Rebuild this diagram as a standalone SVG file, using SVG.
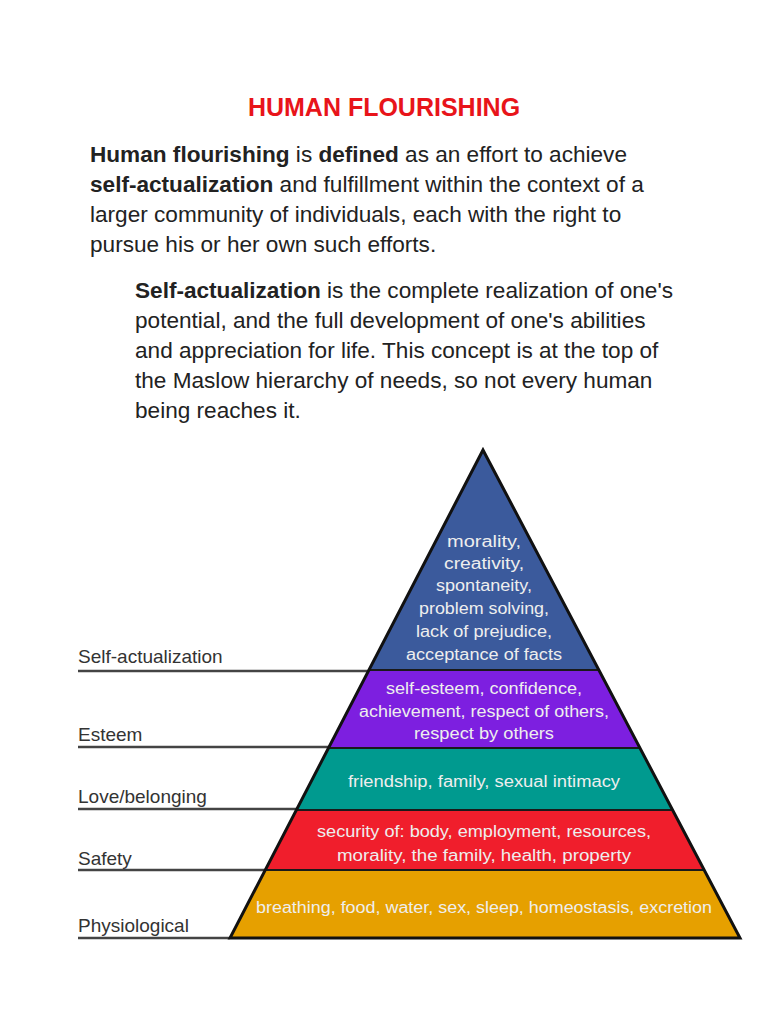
<svg xmlns="http://www.w3.org/2000/svg" width="768" height="1024" viewBox="0 0 768 1024">
<style>
.p{font-family:"Liberation Sans",Arial,sans-serif;font-size:22.6px;fill:#222}
.b{font-weight:bold}
.l{font-family:"Liberation Sans",Arial,sans-serif;font-size:19px;fill:#333}
.t{font-family:"Liberation Sans",Arial,sans-serif;font-size:16px;fill:#eeeeee;text-anchor:middle}
.ln{stroke:#444;stroke-width:2.5}
</style>
<rect width="768" height="1024" fill="#fff"/>
<text x="384" y="116" text-anchor="middle" font-family="Liberation Sans,Arial,sans-serif" font-weight="bold" font-size="25" fill="#e8141a">HUMAN FLOURISHING</text>
<text class="p" x="90" y="162"><tspan class="b">Human flourishing</tspan> is <tspan class="b">defined</tspan> as an effort to achieve</text>
<text class="p" x="90" y="192"><tspan class="b">self-actualization</tspan> and fulfillment within the context of a</text>
<text class="p" x="90" y="222">larger community of individuals, each with the right to</text>
<text class="p" x="90" y="252">pursue his or her own such efforts.</text>
<text class="p" x="135" y="298"><tspan class="b">Self-actualization</tspan> is the complete realization of one's</text>
<text class="p" x="135" y="328">potential, and the full development of one's abilities</text>
<text class="p" x="135" y="358">and appreciation for life. This concept is at the top of</text>
<text class="p" x="135" y="388">the Maslow hierarchy of needs, so not every human</text>
<text class="p" x="135" y="418">being reaches it.</text>
<g id="lines">
<line class="ln" x1="78" y1="671" x2="370" y2="671"/>
<line class="ln" x1="78" y1="747" x2="330" y2="747"/>
<line class="ln" x1="78" y1="809" x2="298" y2="809"/>
<line class="ln" x1="78" y1="870" x2="266" y2="870"/>
<line class="ln" x1="78" y1="938" x2="230" y2="938"/>
</g>
<g id="labels">
<text class="l" x="78" y="663">Self-actualization</text>
<text class="l" x="78" y="741">Esteem</text>
<text class="l" x="78" y="803">Love/belonging</text>
<text class="l" x="78" y="865">Safety</text>
<text class="l" x="78" y="932">Physiological</text>
</g>
<g id="pyramid">
<polygon points="483,450 369,670 599,670" fill="#3b5a9c"/>
<polygon points="369,670 599,670 639,748 329,748" fill="#7d1fe0"/>
<polygon points="329,748 639,748 672,810 297,810" fill="#009a8f"/>
<polygon points="297,810 672,810 703,870 266,870" fill="#f01e2c"/>
<polygon points="266,870 703,870 740,938 230,938" fill="#e6a000"/>
<g stroke="#1a1a1a" stroke-width="2"><line x1="369" y1="670" x2="599" y2="670"/><line x1="329" y1="748" x2="639" y2="748"/><line x1="297" y1="810" x2="672" y2="810"/><line x1="266" y1="870" x2="703" y2="870"/></g>
<polygon points="483,450 230,938 740,938" fill="none" stroke="#111" stroke-width="3"/>
</g>
<g id="texts">
<text class="t" x="484" y="547" textLength="74" lengthAdjust="spacingAndGlyphs">morality,</text>
<text class="t" x="484" y="569" textLength="80" lengthAdjust="spacingAndGlyphs">creativity,</text>
<text class="t" x="484" y="591" textLength="96" lengthAdjust="spacingAndGlyphs">spontaneity,</text>
<text class="t" x="484" y="614" textLength="130" lengthAdjust="spacingAndGlyphs">problem solving,</text>
<text class="t" x="484" y="637" textLength="136" lengthAdjust="spacingAndGlyphs">lack of prejudice,</text>
<text class="t" x="484" y="660" textLength="156" lengthAdjust="spacingAndGlyphs">acceptance of facts</text>
<text class="t" x="484" y="694" textLength="196" lengthAdjust="spacingAndGlyphs">self-esteem, confidence,</text>
<text class="t" x="484" y="717" textLength="250" lengthAdjust="spacingAndGlyphs">achievement, respect of others,</text>
<text class="t" x="484" y="739" textLength="140" lengthAdjust="spacingAndGlyphs">respect by others</text>
<text class="t" x="484" y="787" textLength="272" lengthAdjust="spacingAndGlyphs">friendship, family, sexual intimacy</text>
<text class="t" x="484" y="837" textLength="334" lengthAdjust="spacingAndGlyphs">security of: body, employment, resources,</text>
<text class="t" x="484" y="861" textLength="294" lengthAdjust="spacingAndGlyphs">morality, the family, health, property</text>
<text class="t" x="484" y="913" textLength="456" lengthAdjust="spacingAndGlyphs">breathing, food, water, sex, sleep, homeostasis, excretion</text>
</g>
</svg>
